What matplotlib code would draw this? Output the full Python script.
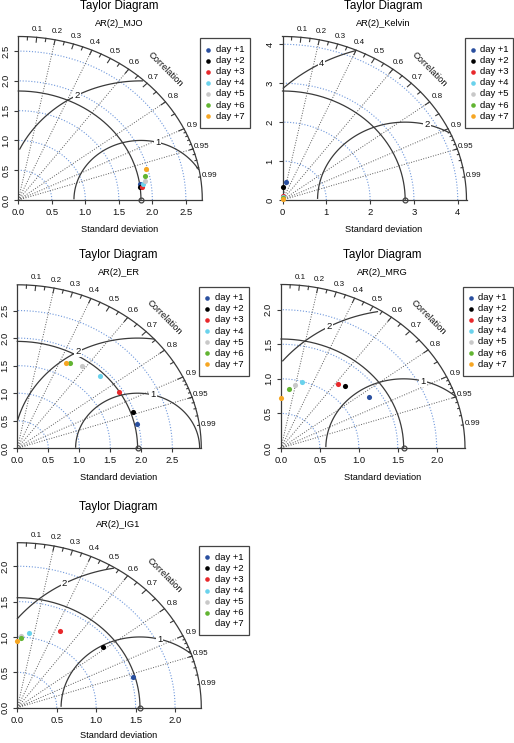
import numpy as np
import matplotlib
matplotlib.use("Agg")
import matplotlib.pyplot as plt
from matplotlib.lines import Line2D
from matplotlib.patches import Rectangle

plt.rcParams['font.family'] = ['Liberation Sans', 'DejaVu Sans']

FIG_W, FIG_H, DPI = 514, 743, 100

# ---------------- data ----------------
days = ["day +1", "day +2", "day +3", "day +4", "day +5", "day +6", "day +7"]
day_colors = ["#2a4f9f", "#000000", "#e8282b", "#6ad2ec", "#c8c8c8", "#62b432", "#f6a623"]

panel_names = ["AR(2)_MJO", "AR(2)_Kelvin", "AR(2)_ER", "AR(2)_MRG", "AR(2)_IG1"]

mjo_ref_sd = 1.83
mjo_sd = [1.829, 1.833, 1.863, 1.884, 1.913, 1.939, 1.970]
mjo_corr = [0.9896, 0.9929, 0.9930, 0.9900, 0.9854, 0.9774, 0.9645]
mjo_rms = [1, 2]
mjo_ticks = [0.0, 0.5, 1.0, 1.5, 2.0, 2.5]

kelvin_ref_sd = 2.80
kelvin_sd = [0.475, 0.340, 0.110, 0.070, 0.050, 0.040, 0.020]
kelvin_corr = [0.147, 0.060, 0.030, 0.100, 0.050, 0.050, 0.100]
kelvin_rms = [2, 4]
kelvin_ticks = [0, 1, 2, 3, 4]

er_ref_sd = 1.94
er_sd = [1.978, 1.971, 1.935, 1.878, 1.823, 1.766, 1.731]
er_corr = [0.9755, 0.943, 0.8505, 0.714, 0.5715, 0.485, 0.451]
er_rms = [1, 2]
er_ticks = [0.0, 0.5, 1.0, 1.5, 2.0, 2.5]

mrg_ref_sd = 1.576
mrg_sd = [1.349, 1.211, 1.173, 0.992, 0.935, 0.865, 0.728]
mrg_corr = [0.8376, 0.676, 0.619, 0.270, 0.195, 0.122, 0.0]
mrg_rms = [1, 2]
mrg_ticks = [0.0, 0.5, 1.0, 1.5, 2.0]

ig1_ref_sd = 1.555
ig1_sd = [1.529, 1.386, 1.212, 1.070, 1.020, 0.990, 0.946]
ig1_corr = [0.958, 0.783, 0.448, 0.142, 0.042, 0.047, 0.0]
ig1_rms = [1, 2]
ig1_ticks = [0.0, 0.5, 1.0, 1.5, 2.0]

corr_major = [0.1, 0.2, 0.3, 0.4, 0.5, 0.6, 0.7, 0.8, 0.9]
corr_extra = [0.95, 0.99]
corr_rays = [0.2, 0.4, 0.6, 0.8, 0.9, 0.95]

panel_data = {
    "AR(2)_MJO": (mjo_ref_sd, mjo_sd, mjo_corr, mjo_rms, mjo_ticks),
    "AR(2)_Kelvin": (kelvin_ref_sd, kelvin_sd, kelvin_corr, kelvin_rms, kelvin_ticks),
    "AR(2)_ER": (er_ref_sd, er_sd, er_corr, er_rms, er_ticks),
    "AR(2)_MRG": (mrg_ref_sd, mrg_sd, mrg_corr, mrg_rms, mrg_ticks),
    "AR(2)_IG1": (ig1_ref_sd, ig1_sd, ig1_corr, ig1_rms, ig1_ticks),
}
legend_no_marker = {"AR(2)_IG1": [6]}

# ---------------- layout (pixels) ----------------
# origin x, origin y, px height per maxsd, title y, subtitle y, xlabel y
layout = {
    "AR(2)_MJO": (18.3, 200.0, 163.5, 6.0, 23.3, 229.0),
    "AR(2)_Kelvin": (282.5, 200.0, 163.5, 6.0, 23.3, 229.0),
    "AR(2)_ER": (17.3, 448.3, 163.5, 255.0, 272.3, 477.0),
    "AR(2)_MRG": (281.0, 448.0, 163.5, 255.0, 272.3, 477.0),
    "AR(2)_IG1": (17.3, 707.7, 165.0, 506.7, 524.3, 735.0),
}
WPX = 184.0

LINE_C = "#3a3a3a"
RAY_C = "#5a5a5a"
ARC_C = "#6f98dc"

fig = plt.figure(figsize=(FIG_W / DPI, FIG_H / DPI), dpi=DPI)
fig.patch.set_facecolor("white")


def fx(px):
    return px / FIG_W


def fy(py):
    return 1 - py / FIG_H


def draw_panel(name):
    ref, sd, corr, rms, ticks = panel_data[name]
    ox, oy, hpx, ty, sy, xly = layout[name]
    sd = np.asarray(sd, float)
    corr = np.asarray(corr, float)
    maxsd = 1.5 * max(ref, sd[0])
    ax = fig.add_axes([fx(ox), fy(oy), 1.1 * WPX / FIG_W, hpx / FIG_H])
    ax.set_xlim(0, 1.1 * maxsd)
    ax.set_ylim(0, maxsd)
    ax.patch.set_alpha(0)
    for s in ["top", "right"]:
        ax.spines[s].set_visible(False)
    for s in ["bottom", "left"]:
        ax.spines[s].set_bounds(0, maxsd)
        ax.spines[s].set_color(LINE_C)
        ax.spines[s].set_linewidth(0.9)
    integer = all(float(t).is_integer() for t in ticks) and isinstance(ticks[0], int)
    labels = [("%d" % t) if integer else ("%.1f" % t) for t in ticks]
    ax.set_xticks(ticks)
    ax.set_xticklabels(labels)
    ax.set_yticks(ticks)
    ax.set_yticklabels(labels, rotation=90, va="center")
    ax.tick_params(direction="out", length=3.0, width=0.8, colors=LINE_C,
                   labelsize=6.8, pad=2.8, labelcolor="#111111")

    th = np.linspace(0, np.pi / 2, 300)
    # sd arcs (blue dotted)
    for a in ticks:
        if a > 0:
            ax.plot(np.cos(th) * a, np.sin(th) * a, color=ARC_C, lw=0.8,
                    ls=(0, (1, 1.6)), clip_on=False, zorder=1)
    # correlation rays
    for c in corr_rays:
        ax.plot([0, maxsd * c], [0, maxsd * np.sqrt(1 - c * c)], color=RAY_C,
                lw=0.7, ls=(0, (1, 1.6)), clip_on=False, zorder=1)
    # reference sd arc and outer arc
    ax.plot(np.cos(th) * ref, np.sin(th) * ref, color=LINE_C, lw=0.9, clip_on=False, zorder=2)
    ax.plot(np.cos(th) * maxsd, np.sin(th) * maxsd, color=LINE_C, lw=0.9, clip_on=False, zorder=2)
    # tick marks on outer arc
    for vals, frac in [(np.arange(0.1, 0.91, 0.1), 0.97),
                       (np.arange(0.05, 0.96, 0.1), 0.98),
                       (np.arange(0.91, 0.995, 0.01), 0.99)]:
        for c in vals:
            a = np.arccos(c)
            ax.plot([np.cos(a) * maxsd, np.cos(a) * maxsd * frac],
                    [np.sin(a) * maxsd, np.sin(a) * maxsd * frac],
                    color=LINE_C, lw=0.8, clip_on=False, zorder=2)
    # correlation labels
    for c in corr_major + corr_extra:
        a = np.arccos(c)
        ax.text(np.cos(a) * 1.05 * maxsd, np.sin(a) * 1.05 * maxsd, "%g" % c,
                ha="center", va="center", fontsize=5.8, color="#111111", clip_on=False)
    ax.text(0.8 * maxsd, 0.8 * maxsd, "Correlation", rotation=-45, ha="center",
            va="center", fontsize=6.7, color="#111111", rotation_mode="anchor")
    # RMS contours (plotrix style)
    t = np.arange(0, np.pi, 0.03)
    labelpos = np.linspace(45, 70, len(rms)).astype(int) - 1
    for gi, g in enumerate(rms):
        xc = np.cos(t) * g + ref
        yc = np.sin(t) * g
        neg = np.where(xc < 0)[0]
        end = neg.min() if len(neg) else len(t)
        out = np.where(xc ** 2 + yc ** 2 > maxsd ** 2)[0]
        start = out.max() + 1 if len(out) else 0
        ax.plot(xc[start:end], yc[start:end], color=LINE_C, lw=0.9, clip_on=False, zorder=2)
        lp = labelpos[gi]
        if xc[lp] > 0:
            ax.text(xc[lp], yc[lp], "%g" % g, ha="center", va="center", fontsize=6.8,
                    color="#111111", zorder=3,
                    bbox=dict(boxstyle="square,pad=0.12", fc="white", ec="none"))
    # reference point
    ax.plot([ref], [0], "o", ms=3.5, mfc="none", mec="#444444", mew=0.9,
            clip_on=False, zorder=4)
    # model points
    xs = sd * corr
    ys = sd * np.sqrt(1 - corr ** 2)
    for i in range(len(days)):
        ax.plot([xs[i]], [ys[i]], "o", ms=3.7, color=day_colors[i], mec="none",
                clip_on=False, zorder=5)
    # titles
    cx = ox + 1.1 * WPX / 2
    fig.text(fx(cx), fy(ty), "Taylor Diagram", ha="center", va="center", fontsize=8.4)
    fig.text(fx(cx), fy(sy), name, ha="center", va="center", fontsize=6.7)
    fig.text(fx(cx), fy(xly), "Standard deviation", ha="center", va="center", fontsize=6.7)
    # legend
    lx, lt = ox + 182.0, oy - 161.5
    lw_, lh = min(50.0, FIG_W - 0.6 - (ox + 182.0)), 89.0
    fig.add_artist(Rectangle((fx(lx), fy(lt + lh)), lw_ / FIG_W, lh / FIG_H,
                             transform=fig.transFigure, fill=True, fc="white",
                             ec="#444444", lw=0.9))
    hidden = legend_no_marker.get(name, [])
    for i, lab in enumerate(days):
        yy = lt + 11.0 + i * 11.1
        if i not in hidden:
            fig.add_artist(Line2D([fx(lx + 8)], [fy(yy)], marker="o", ms=3.3,
                                  color=day_colors[i], mec="none",
                                  transform=fig.transFigure))
        fig.text(fx(lx + 15.5), fy(yy), lab, ha="left", va="center", fontsize=6.8)


for nm in panel_names:
    draw_panel(nm)

fig.savefig("out.png", dpi=DPI, facecolor="white")
